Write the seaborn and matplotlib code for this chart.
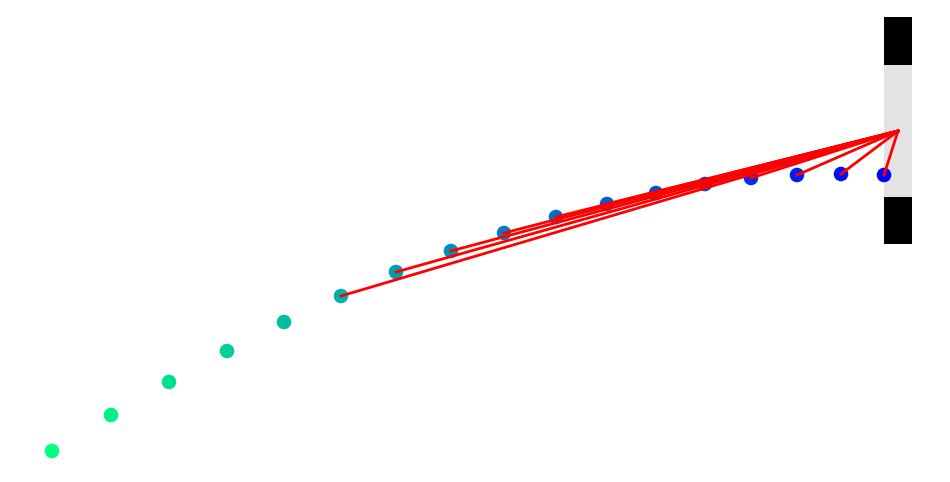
import numpy as np
import pandas as pd
import matplotlib
matplotlib.use("Agg")
import matplotlib.pyplot as plt
import seaborn as sns

# point positions (read in pixel units of the reference)
px = [52, 111, 169, 227, 284, 341, 396, 451, 504, 556, 607, 656, 705, 751, 797, 841, 884]
py = [451, 415, 382, 351, 322, 296, 272, 251, 233, 217, 204, 193, 184, 178, 175, 174, 175]
order = list(range(len(px)))

# anchor of the red rays and which points they reach
anchor = (898, 131)
first_linked = 5

# right side bar: segments (bottom, top, colour)
bar_x = 898
bar_segments = [(17, 65, "black"), (65, 197, "#e3e3e3"), (197, 244, "black")]

df = pd.DataFrame({"x": px, "y": py, "i": order})

fig = plt.figure(figsize=(9.5, 4.82), dpi=100)
ax = fig.add_axes([0, 0, 1, 1])

for lo, hi, c in bar_segments:
    ax.bar(bar_x, hi - lo, bottom=lo, width=28, color=c, zorder=1)

sns.scatterplot(data=df, x="x", y="y", hue="i", palette="winter_r", s=110,
                edgecolor="none", legend=False, ax=ax, zorder=2)

for xi, yi in zip(px[first_linked:], py[first_linked:]):
    ax.plot([anchor[0], xi], [anchor[1], yi], color="red", lw=2, zorder=3)

ax.set_xlim(0, 950)
ax.set_ylim(482, 0)
ax.axis("off")
fig.savefig("out.png", dpi=100)
